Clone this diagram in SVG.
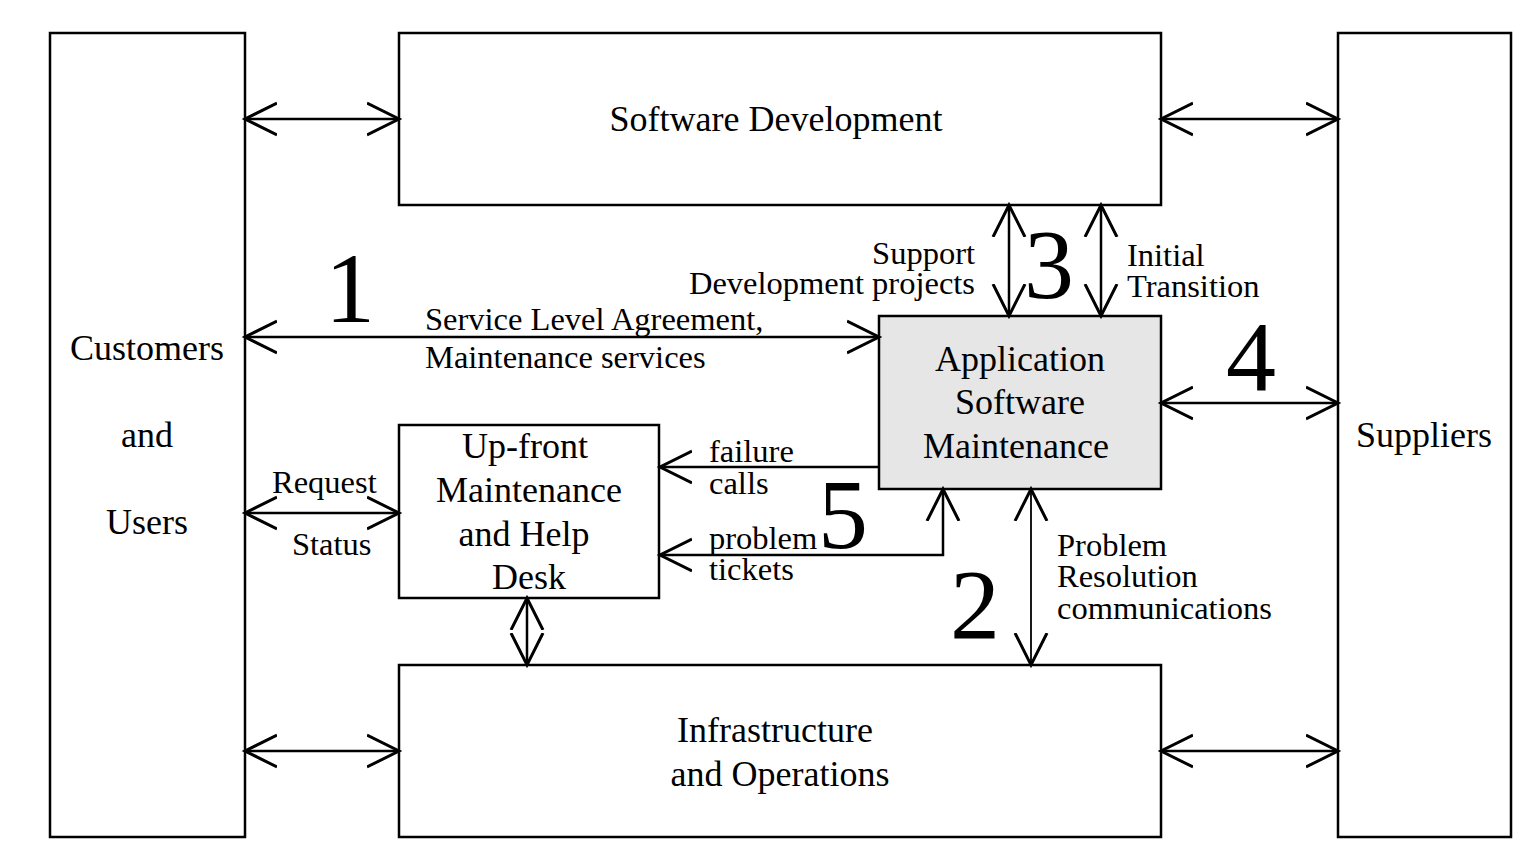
<svg xmlns="http://www.w3.org/2000/svg" width="1538" height="863" viewBox="0 0 1538 863">
<style>
rect{fill:#fff;stroke:#000;stroke-width:2.5}
text{font-family:"Liberation Serif",serif;fill:#000}
.t{font-size:36px;text-anchor:middle}
.s{font-size:32.5px}
.n{font-size:100px}
line,polyline{stroke:#000;stroke-width:2.5;fill:none}
</style>
<defs>
<marker id="a" markerUnits="userSpaceOnUse" markerWidth="40" markerHeight="40" refX="32" refY="16" orient="auto-start-reverse" viewBox="0 0 40 32">
<polyline points="0,0 32,16 0,32" style="stroke:#000;stroke-width:3;fill:none"/>
</marker>
</defs>
<rect width="1538" height="863" style="stroke:none"/>
<g id="customers"><rect x="50" y="33" width="195" height="804"/><text class="t" x="147" y="360">Customers</text><text class="t" x="147" y="447">and</text><text class="t" x="147" y="534">Users</text></g>
<g id="swdev"><rect x="399" y="33" width="762" height="172"/><text class="t" x="776" y="131">Software Development</text></g>
<g id="suppliers"><rect x="1338" y="33" width="173" height="804"/><text class="t" x="1424" y="447">Suppliers</text></g>
<g id="asm"><rect x="879" y="316" width="282" height="173" style="fill:#e6e6e6"/><text class="t" x="1020" y="371">Application</text><text class="t" x="1020" y="414">Software</text><text class="t" x="1016" y="458">Maintenance</text></g>
<g id="helpdesk"><rect x="399" y="425" width="260" height="173"/><text class="t" x="525" y="458">Up-front</text><text class="t" x="529" y="502">Maintenance</text><text class="t" x="524" y="546">and Help</text><text class="t" x="529" y="589">Desk</text></g>
<g id="infra"><rect x="399" y="665" width="762" height="172"/><text class="t" x="775" y="742">Infrastructure</text><text class="t" x="780" y="786">and Operations</text></g>
<g id="connectors">
<line x1="245" y1="119" x2="399" y2="119" marker-start="url(#a)" marker-end="url(#a)"/>
<line x1="1161" y1="119" x2="1338" y2="119" marker-start="url(#a)" marker-end="url(#a)"/>
<line x1="245" y1="337" x2="879" y2="337" marker-start="url(#a)" marker-end="url(#a)"/>
<line x1="1009" y1="205" x2="1009" y2="316" marker-start="url(#a)" marker-end="url(#a)"/>
<line x1="1101" y1="205" x2="1101" y2="316" marker-start="url(#a)" marker-end="url(#a)"/>
<line x1="1161" y1="403" x2="1338" y2="403" marker-start="url(#a)" marker-end="url(#a)"/>
<line x1="879" y1="467" x2="660" y2="467" marker-end="url(#a)"/>
<polyline points="943,489 943,555 660,555" marker-start="url(#a)" marker-end="url(#a)"/>
<line x1="245" y1="513" x2="399" y2="513" marker-start="url(#a)" marker-end="url(#a)"/>
<line x1="527" y1="598" x2="527" y2="665" marker-start="url(#a)" marker-end="url(#a)"/>
<line x1="1031" y1="489" x2="1031" y2="665" style="stroke-width:1.8" marker-start="url(#a)" marker-end="url(#a)"/>
<line x1="245" y1="751" x2="399" y2="751" marker-start="url(#a)" marker-end="url(#a)"/>
<line x1="1161" y1="751" x2="1338" y2="751" marker-start="url(#a)" marker-end="url(#a)"/>
</g>
<g id="labels">
<text class="n" x="325" y="322">1</text>
<text class="s" x="425" y="330">Service Level Agreement,</text>
<text class="s" x="425" y="368">Maintenance services</text>
<text class="s" x="975" y="264" text-anchor="end">Support</text>
<text class="s" x="975" y="294" text-anchor="end">Development projects</text>
<text class="n" x="1024" y="298">3</text>
<text class="s" x="1127" y="266">Initial</text>
<text class="s" x="1127" y="297">Transition</text>
<text class="n" x="1226" y="390">4</text>
<text class="s" x="709" y="462">failure</text>
<text class="s" x="709" y="494">calls</text>
<text class="n" x="818" y="548">5</text>
<text class="s" x="709" y="549">problem</text>
<text class="s" x="709" y="580">tickets</text>
<text class="s" x="272" y="493">Request</text>
<text class="s" x="292" y="555">Status</text>
<text class="n" x="950" y="638">2</text>
<text class="s" x="1057" y="556">Problem</text>
<text class="s" x="1057" y="587">Resolution</text>
<text class="s" x="1057" y="619">communications</text>
</g>
</svg>
